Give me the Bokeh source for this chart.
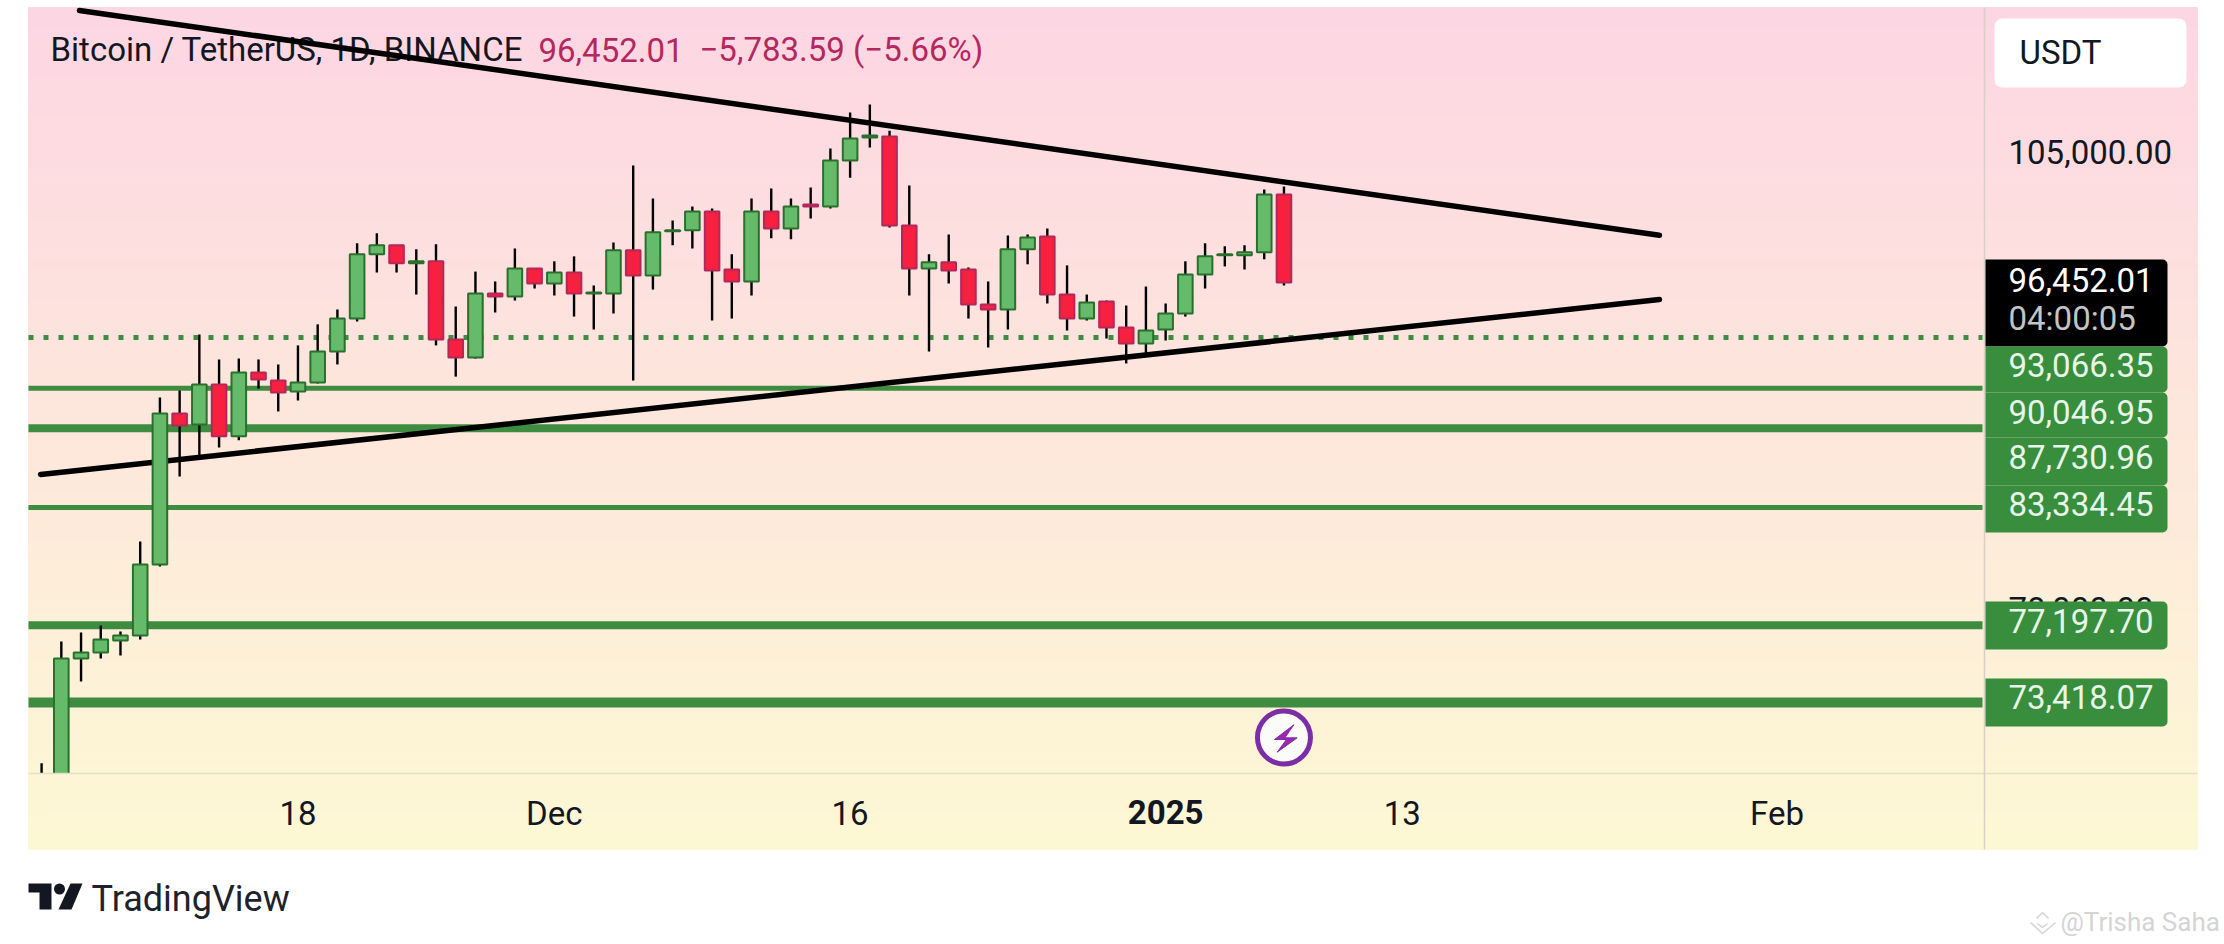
import math
from bokeh.plotting import figure
from bokeh.models import Range1d, FixedTicker, NumeralTickFormatter, LinearAxis
from bokeh.core.properties import value
from bokeh.embed import file_html
from bokeh.resources import INLINE

# ---- data ----
TITLE = "Bitcoin / TetherUS, 1D, BINANCE"
LAST_PRICE = "96,452.01"
LAST_CHANGE = "\u22125,783.59 (\u22125.66%)"
COUNTDOWN = "04:00:05"
CURRENCY = "USDT"
BRAND = "TradingView"
WATERMARK = "@Trisha Saha"

OPEN = [67811, 69359, 75548, 75840, 76433, 76680, 80302, 88586, 87954, 90270, 87282, 90974, 90503, 89855, 90385, 92223,
        94220, 98234, 98810, 97662, 97790, 92950, 91860, 95764, 95578, 97335, 96390, 97080, 95764, 95764, 98488, 96890,
        99720, 99785, 101010, 97270, 96517, 101010, 99900, 101470, 101340, 104410, 105980, 106045, 100095, 97335,
        97725, 97270, 95085, 94776, 98552, 99385, 95700, 94220, 95268, 93670, 92700, 93550, 94530, 96955, 98170, 98170,
        98360, 102130]
HIGH = [70577, 76385, 76833, 77185, 76880, 81514, 89508, 89914, 93251, 91748, 91807, 91748, 91450, 92590, 93866, 94776,
        98940, 99585, 98810, 98552, 98875, 94960, 97140, 96517, 98615, 97335, 97790, 98105, 96265, 99000, 104078, 101865,
        100423, 101340, 101205, 98234, 101865, 102530, 101865, 102600, 105225, 107720, 108280, 106450, 102730, 98234,
        99515, 97400, 96517, 99450, 99515, 99900, 97530, 95700, 95330, 95020, 96200, 95145, 97790, 98940, 98745, 98810,
        102465, 102665]
LOW = [67458, 68900, 74421, 75548, 75695, 76480, 80197, 85034, 86197, 86645, 87056, 90030, 88700, 89334, 90326, 91450,
       94040, 97080, 97080, 95700, 92590, 90730, 91800, 94590, 95330, 96075, 95640, 94340, 93550, 94530, 90500, 96010,
       98810, 98615, 94100, 94220, 95640, 99260, 99195, 100555, 101205, 103240, 105295, 99965, 95640, 92223,
       96390, 94220, 92463, 93550, 97600, 95145, 93490, 94100, 93005, 91510, 91985, 92885, 94340, 96075, 97465, 97270,
       97915, 96265]
CLOSE = [69359, 75548, 75840, 76480, 76680, 80302, 88586, 87900, 90270, 87282, 90974, 90563, 89800, 90385, 92223, 94220,
         98234, 98810, 97662, 97790, 92950, 91860, 95764, 95578, 97335, 96390, 97080, 95764, 95825, 98488, 96890, 99658,
         99785, 101010, 97210, 96517, 101010, 99900, 101340, 101340, 104410, 105912, 106115, 100095, 97335, 97725,
         97210, 95085, 94776, 98552, 99320, 95700, 94220, 95207, 93670, 92700, 93490, 94530, 96955, 98105, 98234, 98360,
         102130, 96452]

TIME_TICKS = [13, 26, 41, 69, 88]
TIME_LABELS = ["18", "Dec", "16", "13", "Feb"]
YEAR_TICK = 57
YEAR_LABEL = "2025"
PRICE_TICKS = [105000, 97000, 78000]

DOTTED_LEVEL = 93066.35
SOLID_LEVELS = [90046.95, 87730.96, 83334.45, 77197.70, 73418.07]
SOLID_WIDTHS = [5, 8, 5, 8, 10]

UPPER_X = [1.92, 82.04]
UPPER_Y = [115094, 99455]
LOWER_X = [-0.05, 82.04]
LOWER_Y = [85143, 95392]

LEVEL_LABELS = ["93,066.35", "90,046.95", "87,730.96", "83,334.45", "77,197.70", "73,418.07"]
LABEL_TOPS = [346, 392, 437, 485, 601, 678]
LABEL_BOTTOMS = [392, 437, 485, 532, 649, 726]
LABEL_CENTERS = [364, 411, 456, 503, 620, 696]

# ---- page-pixel helpers for decorations ----
W, H = 2222, 942
def X(px):
    return (px - 41.1) / 19.72
def Y(py):
    return 93066.35 * math.exp((337 - py) / 1539)

p = figure(width=W, height=H, output_backend="svg", toolbar_location=None,
           y_axis_type="log", y_axis_location="right",
           x_range=Range1d(X(0), X(W)), y_range=Range1d(Y(H), Y(0)),
           min_border=0, min_border_left=0, min_border_right=0, min_border_top=0, min_border_bottom=0)
p.outline_line_color = None
p.grid.visible = False
p.background_fill_color = "white"
p.border_fill_color = "white"

# background gradient
PANEL_L, PANEL_R, PANEL_T, PANEL_B = 28, 2197, 7, 849
AXIS_Y, DIV_X = 773, 1984
TOP_RGB, BOT_RGB = (253, 214, 227), (253, 248, 212)
h = (AXIS_Y - PANEL_T) / 76
for k in range(84):
    t0 = PANEL_T + k * h
    t1 = min(PANEL_T + (k + 1) * h, PANEL_B)
    f = k / 83
    c = "#%02x%02x%02x" % tuple(round(a + (b - a) * f) for a, b in zip(TOP_RGB, BOT_RGB))
    lvl = "annotation" if t0 >= AXIS_Y - 0.01 else "underlay"
    p.quad(left=[X(PANEL_L)], right=[X(PANEL_R)], top=[Y(t0)], bottom=[Y(t1)],
           fill_color=c, line_color=c, line_width=1, level=lvl)

TXT = "#131722"
FONT = "Roboto"
def text(px, py, s, color=TXT, size="33px", align="left", style="normal", level="overlay"):
    p.text(x=[X(px)], y=[Y(py)], text=[s], text_color=color, text_font=value(FONT), text_font_size=value(size),
           text_align=align, text_baseline="middle", text_font_style=style, level=level)

# title
text(50, 49, TITLE, level="glyph")
text(538, 49, LAST_PRICE, color="#b5275f", level="glyph")
text(699, 49, LAST_CHANGE, color="#b5275f", level="glyph")

# levels
GREEN = "#3d8c40"
p.line([X(PANEL_L), X(DIV_X - 2)], [DOTTED_LEVEL, DOTTED_LEVEL], line_color=GREEN,
       line_width=5, line_dash=[5, 10], line_cap="butt")
for lv, w in zip(SOLID_LEVELS, SOLID_WIDTHS):
    p.segment(x0=[X(PANEL_L)], x1=[X(DIV_X - 2)], y0=[lv], y1=[lv], line_color=GREEN, line_width=w)

# trendlines
p.line(UPPER_X, UPPER_Y, line_color="black", line_width=5.5, line_cap="round")
p.line(LOWER_X, LOWER_Y, line_color="black", line_width=5.5, line_cap="round")

# candles
idx = list(range(len(OPEN)))
p.segment(x0=idx, x1=idx, y0=LOW, y1=HIGH, line_color="black", line_width=2.4)
up = [c >= o for o, c in zip(OPEN, CLOSE)]
p.vbar(x=idx, width=0.74,
       top=[max(o, c) for o, c in zip(OPEN, CLOSE)],
       bottom=[min(o, c) for o, c in zip(OPEN, CLOSE)],
       fill_color=["#66bb6a" if u else "#f7213f" for u in up],
       line_color=["#2a6f2e" if u else "#b1285a" for u in up],
       line_width=2)

# axis separators
p.segment(x0=[X(PANEL_L)], x1=[X(PANEL_R)], y0=[Y(AXIS_Y)], y1=[Y(AXIS_Y)], line_color="#e4dfc4",
          line_width=1.5, level="annotation")
p.segment(x0=[X(DIV_X)], x1=[X(DIV_X)], y0=[Y(PANEL_T)], y1=[Y(PANEL_B)], line_color="#d8cfc6",
          line_width=1.5, level="annotation")

# axes
xa = p.xaxis[0]
xa.fixed_location = Y(AXIS_Y)
xa.ticker = FixedTicker(ticks=TIME_TICKS)
xa.major_label_overrides = dict(zip(TIME_TICKS, TIME_LABELS))
ya = p.yaxis[0]
ya.fixed_location = X(DIV_X)
ya.ticker = FixedTicker(ticks=PRICE_TICKS)
ya.formatter = NumeralTickFormatter(format="0,0.00")
xb = LinearAxis(fixed_location=Y(AXIS_Y), ticker=FixedTicker(ticks=[YEAR_TICK]),
                major_label_overrides={YEAR_TICK: YEAR_LABEL}, major_label_text_font_style="bold")
p.add_layout(xb, "below")
for ax in (xa, ya, xb):
    ax.axis_line_color = None
    ax.major_tick_line_color = None
    ax.minor_tick_line_color = None
    ax.major_label_text_font = FONT
    ax.major_label_text_font_size = "33px"
    ax.major_label_text_color = TXT
xa.major_label_standoff = 14
xb.major_label_standoff = 20
ya.major_label_standoff = 18
xa.level = "overlay"
xb.level = "overlay"
ya.level = "guide"

# price labels
p.quad(left=[X(DIV_X + 1)], right=[X(2167)], top=[Y(259)], bottom=[Y(346)], fill_color="black", line_color=None,
       border_radius=(0, 5, 5, 0), level="annotation")
text(2008, 279, LAST_PRICE, color="white")
text(2008, 318, COUNTDOWN, color="#c4c4c4")
for lab, t, b, c in zip(LEVEL_LABELS, LABEL_TOPS, LABEL_BOTTOMS, LABEL_CENTERS):
    p.quad(left=[X(DIV_X + 1)], right=[X(2167)], top=[Y(t)], bottom=[Y(b)], fill_color="#388e3c", line_color=None,
           border_radius=(0, 5, 5, 0), level="annotation")
    text(2008, c, lab, color="#e8f5e9")

# currency box
p.quad(left=[X(1994)], right=[X(2186)], top=[Y(18)], bottom=[Y(87)], fill_color="white", line_color=None,
       border_radius=8, level="annotation")
text(2019, 52, CURRENCY)

# lightning badge
p.scatter(x=[63], y=[Y(737)], size=53, marker="circle", fill_color="#fbfbf7", line_color="#7b2ea6",
          line_width=5, level="annotation")
BOLT = [(430, 133), (372, 177), (408, 177), (380, 215), (440, 172), (403, 172)]
p.patch([X(1150 + a / 3) for a, b in BOLT], [Y(680 + b / 3) for a, b in BOLT], fill_color="#9c27b0",
        line_color="#7b2ea6", line_width=1, level="annotation")

# TradingView logo
LOGO = "#131722"
p.patch([X(a) for a in (28, 51, 51, 39, 39, 28)], [Y(b) for b in (883, 883, 909, 909, 892, 892)],
        fill_color=LOGO, line_color=None)
p.scatter(x=[X(59)], y=[Y(888.5)], size=11, marker="circle", fill_color=LOGO, line_color=None)
p.patch([X(a) for a in (70, 82, 71, 58)], [Y(b) for b in (883, 883, 909, 909)], fill_color=LOGO, line_color=None)
text(91, 898, BRAND, color="#1e222d", size="36px")

# watermark
WM = "#d4d4d4"
for pts in ([(2030, 922), (2042, 933), (2055, 922)], [(2036, 918), (2042, 912), (2048, 918)],
            [(2037, 923), (2042, 927), (2047, 923)]):
    p.line([X(a) for a, b in pts], [Y(b) for a, b in pts], line_color=WM, line_width=1.5)
text(2060, 921, WATERMARK, color=WM, size="26px")

open("out.html", "w").write(file_html(p, INLINE))
